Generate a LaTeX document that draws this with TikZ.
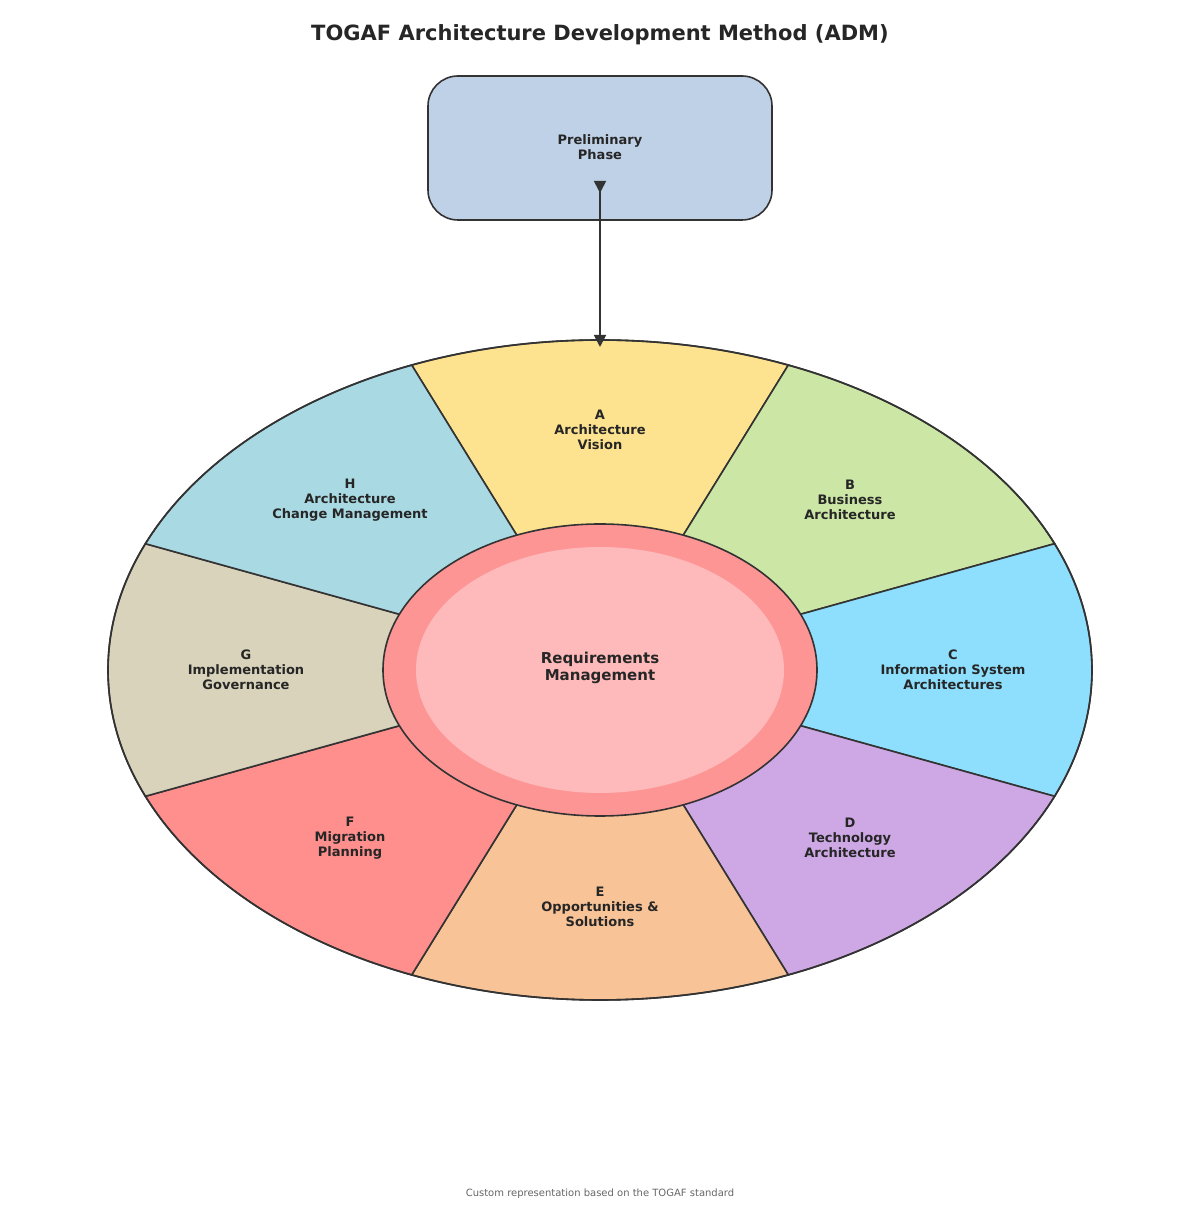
\documentclass[tikz,border=0pt]{standalone}
\usepackage{fontspec}
\setmainfont{DejaVu Sans}
\usetikzlibrary{arrows.meta}
\definecolor{cA}{HTML}{FDE28F}
\definecolor{cB}{HTML}{CBE6A5}
\definecolor{cC}{HTML}{8EDFFE}
\definecolor{cD}{HTML}{CEA8E4}
\definecolor{cE}{HTML}{F8C397}
\definecolor{cF}{HTML}{FE8F8D}
\definecolor{cG}{HTML}{D8D3BA}
\definecolor{cH}{HTML}{A9D9E3}
\definecolor{ring}{HTML}{FE9595}
\definecolor{core}{HTML}{FEB9BA}
\definecolor{box}{HTML}{BFD1E7}
\definecolor{edge}{HTML}{333333}
\begin{document}
\begin{tikzpicture}[x=0.5pt,y=0.5pt,
  seg/.style={draw=edge,line width=0.8pt},
  lab/.style={font=\bfseries\fontsize{6.5}{7.6}\selectfont,align=center,text=black!85}]
\useasboundingbox (0,0) rectangle (1200,1211);
\node[font=\bfseries\fontsize{10.5}{12}\selectfont,text=black!85] (title) at (600,1176) {TOGAF Architecture Development Method (ADM)};
\coordinate (c) at (600,541);
\foreach \a/\col in {90/cA,45/cB,0/cC,-45/cD,-90/cE,-135/cF,180/cG,135/cH}{
  \fill[\col,seg] (c) -- ++({492*cos(\a-22.5)},{330*sin(\a-22.5)}) arc[start angle=\a-22.5,end angle=\a+22.5,x radius=492,y radius=330] -- cycle;
}
\draw[seg] (c) ellipse[x radius=492,y radius=330];
\fill[ring,seg] (c) ellipse[x radius=217,y radius=146];
\fill[core] (c) ellipse[x radius=184,y radius=123];
\node[lab,font=\bfseries\fontsize{7.5}{8.5}\selectfont] (req) at (600,543) {Requirements\\Management};
\node[lab] (A) at (600,781) {A\\Architecture\\Vision};
\node[lab] (B) at (850,711) {B\\Business\\Architecture};
\node[lab] (C) at (953,541) {C\\Information System\\Architectures};
\node[lab] (D) at (850,373) {D\\Technology\\Architecture};
\node[lab] (E) at (600,304) {E\\Opportunities \&\\Solutions};
\node[lab] (F) at (350,373) {F\\Migration\\Planning};
\node[lab] (G) at (246,541) {G\\Implementation\\Governance};
\node[lab] (H) at (350,711) {H\\Architecture\\Change Management};
\draw[fill=box,seg,rounded corners=15pt] (428,991) rectangle (772,1135);
\node[lab] (pre) at (600,1064) {Preliminary\\Phase};
\coordinate (s) at (600,1030);
\coordinate (Atop) at (600,864);
\draw[edge,line width=0.9pt,{Triangle[reversed,length=6pt,width=6pt]}-{Triangle[length=6pt,width=6pt]}] (s) -- (Atop);
\node[font=\fontsize{5}{6}\selectfont,text=black!60] (foot) at (600,17) {Custom representation based on the TOGAF standard};
\end{tikzpicture}
\end{document}
